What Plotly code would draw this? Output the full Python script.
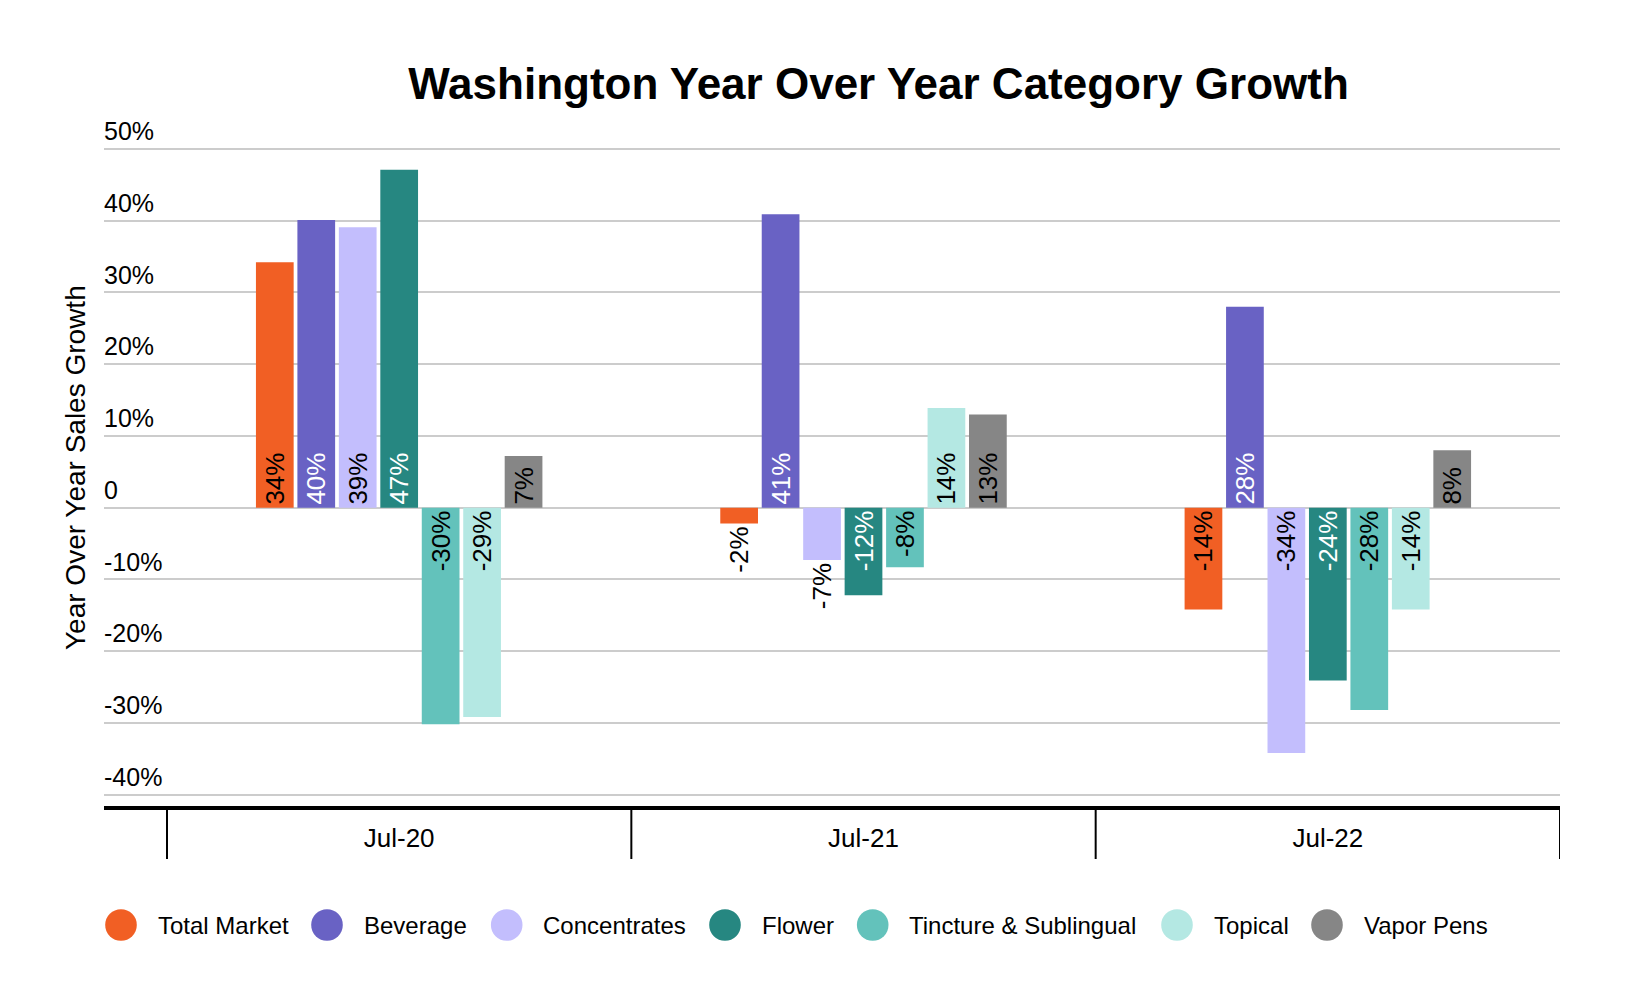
import plotly.graph_objects as go

# ---------------- data ----------------
months = ["Jul-20", "Jul-21", "Jul-22"]
series_names = ["Total Market", "Beverage", "Concentrates", "Flower",
                "Tincture & Sublingual", "Topical", "Vapor Pens"]
total_market = [34.2, -2.2, -14.2]
beverage = [40.1, 40.9, 28.0]
concentrates = [39.1, -7.3, -34.2]
flower = [47.1, -12.2, -24.1]
tincture_sublingual = [-30.2, -8.3, -28.2]
topical = [-29.2, 13.9, -14.2]
vapor_pens = [7.2, 13.0, 8.0]

y_tick_vals = [50, 40, 30, 20, 10, 0, -10, -20, -30, -40]
y_tick_text = ["50%", "40%", "30%", "20%", "10%", "0", "-10%", "-20%", "-30%", "-40%"]

# ---------------- styles ----------------
series_values = [total_market, beverage, concentrates, flower,
                 tincture_sublingual, topical, vapor_pens]
colors = ["#F15F24", "#6962C4", "#C3BEFD", "#268781", "#63C2BB", "#B4E8E3", "#868686"]
inside_text_colors = ["black", "white", "black", "white", "black", "black", "black"]
FONT = "Liberation Sans, Arial, sans-serif"
LABEL_SIZE = 26
PX_PER_UNIT = 7.17  # pixel length of 1 percentage point on the y axis

CHAR_EM = {"%": 0.889, "-": 0.333}


def label_for(v):
    return f"{round(v)}%"


def text_len(s):
    return sum(CHAR_EM.get(c, 0.556) for c in s) * LABEL_SIZE


fig = go.Figure()
for name, vals, col, tcol in zip(series_names, series_values, colors, inside_text_colors):
    labels = [label_for(v) for v in vals]
    positions = ["inside" if abs(v) * PX_PER_UNIT >= text_len(t) + 8 else "outside"
                 for v, t in zip(vals, labels)]
    fig.add_trace(go.Bar(
        x=months, y=vals, name=name,
        marker=dict(color=col, line=dict(width=0)),
        text=labels, textposition=positions, textangle=-90,
        insidetextanchor="start", constraintext="none",
        insidetextfont=dict(color=tcol, size=LABEL_SIZE, family=FONT),
        outsidetextfont=dict(color="black", size=LABEL_SIZE, family=FONT),
        showlegend=False, hoverinfo="x+y+name",
    ))

# ---------------- layout geometry ----------------
W, H = 1637, 999
ML, MR, MT, MB = 104, 77, 90, 193
PW, PH = W - ML - MR, H - MT - MB
Y_TOP = 50 + (149 - MT) / PX_PER_UNIT


def px_x(px):
    return (px - ML) / PW


def px_y(py):
    return (H - MB - py) / PH


shapes = []
annotations = []

# category divider ticks below the axis
for b in [-0.5, 0.5, 1.5, 2.5]:
    shapes.append(dict(type="line", xref="x", yref="paper", x0=b, x1=b,
                       y0=px_y(808), y1=px_y(859),
                       line=dict(color="black", width=2), layer="above"))

# custom legend with round symbols
legend_centers = [121, 327, 506.7, 725, 872.7, 1177, 1327]
legend_y = 925
R = 15.8
for name, col, cx in zip(series_names, colors, legend_centers):
    shapes.append(dict(type="circle", xref="paper", yref="paper",
                       xsizemode="pixel", ysizemode="pixel",
                       xanchor=px_x(cx), yanchor=px_y(legend_y),
                       x0=-R, x1=R, y0=-R, y1=R,
                       fillcolor=col, line=dict(width=0)))
    annotations.append(dict(text=name, xref="paper", yref="paper",
                            x=px_x(cx + 34.5), y=px_y(legend_y),
                            xanchor="left", yanchor="middle", showarrow=False,
                            font=dict(size=24, color="black", family=FONT)))

# y-axis title
annotations.append(dict(text="Year Over Year Sales Growth", xref="paper", yref="paper",
                        x=px_x(75), y=px_y(468), xanchor="center", yanchor="middle",
                        textangle=-90, showarrow=False,
                        font=dict(size=28, color="black", family=FONT)))

fig.update_layout(
    width=W, height=H,
    margin=dict(l=ML, r=MR, t=MT, b=MB, pad=0),
    paper_bgcolor="white", plot_bgcolor="white",
    font=dict(family=FONT, color="black"),
    barmode="group", bargap=0.375, bargroupgap=0.09,
    uniformtext=dict(minsize=LABEL_SIZE, mode="show"),
    title=dict(text="Washington Year Over Year Category Growth",
               font=dict(size=44, color="black", family=FONT, weight="bold"),
               xref="container", yref="container",
               x=878.5 / W, xanchor="center", y=1 - 84 / H, yanchor="middle"),
    xaxis=dict(type="category", range=[-0.6357, 2.5], showgrid=False,
               showline=True, linecolor="black", linewidth=4,
               ticks="", tickfont=dict(size=26, color="black", family=FONT),
               ticklabelstandoff=6, fixedrange=True),
    yaxis=dict(range=[-41.6, Y_TOP], tickvals=y_tick_vals, ticktext=y_tick_text,
               showgrid=True, gridcolor="#cccccc", gridwidth=2,
               zeroline=True, zerolinecolor="#cccccc", zerolinewidth=2,
               showline=False, ticks="", ticklabelposition="inside top",
               ticklabelstandoff=-3,
               tickfont=dict(size=25, color="black", family=FONT), fixedrange=True),
    shapes=shapes, annotations=annotations,
)

fig.write_html("out.html", include_plotlyjs=True,
               config={"displayModeBar": False},
               post_script="document.body.style.margin='0';document.body.style.overflow='hidden';")
